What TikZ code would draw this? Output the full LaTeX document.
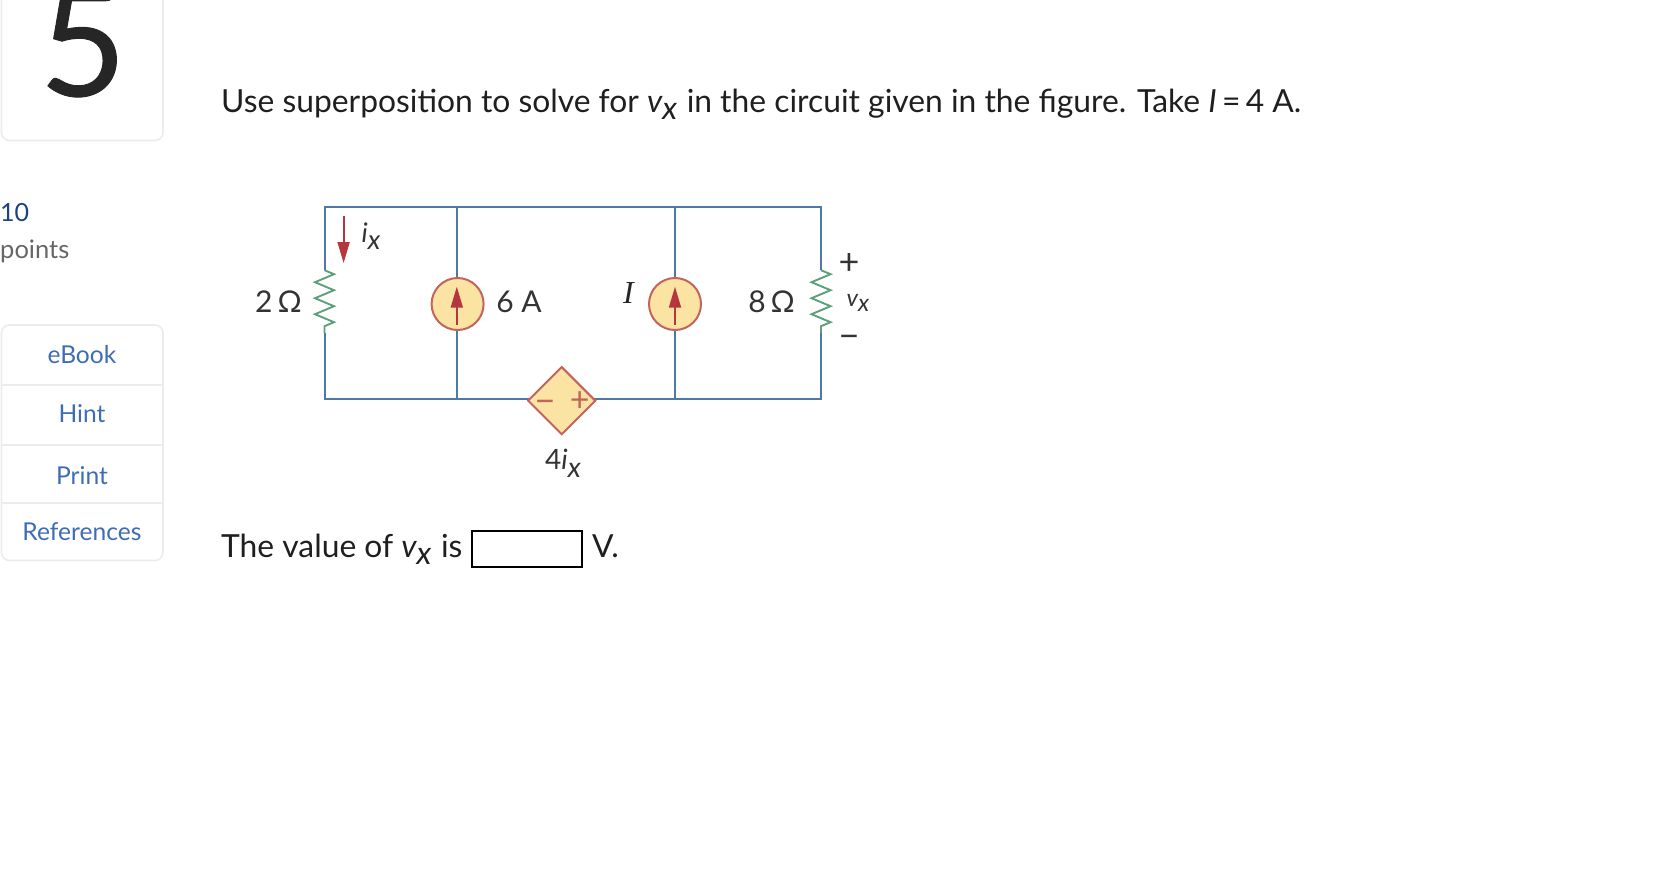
\documentclass[tikz,border=0pt]{standalone}
\usepackage{xcolor}
\usepackage{fontspec}
\setmainfont{Lato}
\newfontfamily\serifi{Liberation Serif}
\usetikzlibrary{shapes,arrows.meta,positioning,decorations.pathmorphing}

\definecolor{wirecol}{HTML}{4E79A5}
\definecolor{rescol}{HTML}{5E9F7C}
\definecolor{srcfill}{HTML}{FBE3A4}
\definecolor{srcline}{HTML}{C2645C}
\definecolor{arrcol}{HTML}{B5363C}
\definecolor{linkcol}{HTML}{3D6DB5}
\definecolor{panelcol}{HTML}{ECECEC}
\definecolor{labcol}{HTML}{333333}
\definecolor{navycol}{HTML}{1B4282}

\newcommand{\vxsym}{{\itshape v\raisebox{-.24em}{x}}}
\newcommand{\ixsym}{{\itshape i\raisebox{-.28em}{x}}}

\tikzset{
    wire/.style={draw=wirecol, line width=2pt},
    resistor/.style={draw=rescol, line width=1.9pt, decorate, decoration={zigzag, segment length=16pt, amplitude=9.5pt}},
    source/.style={circle, draw=srcline, fill=srcfill, line width=2pt, minimum size=52pt, inner sep=0pt},
    depsource/.style={diamond, draw=srcline, fill=srcfill, line width=2pt, minimum size=68pt, inner sep=0pt},
    flow/.style={draw=arrcol, line width=1.8pt, -{Triangle[length=21pt, width=12pt]}},
    panel/.style={draw=panelcol, line width=1.6pt, rounded corners=8pt},
    label/.style={text=labcol, font=\fontsize{30}{32}\selectfont, inner sep=0pt},
    prompt/.style={text=black!88, font=\fontsize{31.8}{36}\selectfont, inner sep=0pt, anchor=base west},
    sidelink/.style={text=linkcol, font=\fontsize{24.6}{28}\selectfont, inner sep=0pt}
}

\begin{document}
\begin{tikzpicture}[x=1pt, y=-1pt]
    \useasboundingbox (0,0) rectangle (1664,870);
    % question number
    \draw [panel] (1.5,-30) rectangle (163,140.5);
    \node (number) [inner sep=0pt, text=black!85, anchor=base, font=\fontsize{150}{150}\selectfont\addfontfeature{FakeBold=0.6}] at (83,96) {5};
    \node (worth) [inner sep=0pt, text=navycol, font=\fontsize{25}{32}\selectfont, anchor=west] at (0,213) {10};
    \node (points) [inner sep=0pt, text=black!60, font=\fontsize{25.5}{30}\selectfont, anchor=west] at (0,251) {points};

    % side panel
    \draw [panel] (1.5,325) rectangle (163,560.5);
    \coordinate (p1) at (1.5,385);
    \coordinate (p2) at (1.5,445);
    \coordinate (p3) at (1.5,503);
    \foreach \p in {p1,p2,p3}
        \draw [draw=panelcol, line width=1.6pt] (\p) -- ++(161.5,0);
    \node (ebook) [sidelink] at (82,355) {eBook};
    \node (hint) [sidelink] at (82,414) {Hint};
    \node (print) [sidelink] at (82,476) {Print};
    \node (refs) [sidelink] at (82,531.5) {References};

    % question text
    \node (question) [prompt] at (221,112) {Use superposition to solve for \vxsym\hspace{.05em} in the circuit given in the figure. Take \textit{I}\,=\,4 A.};
    \node (answer) [prompt] at (221,557) {The value of \vxsym\hspace{.05em} is};
    \node (blank) [rectangle, draw=black, line width=2pt, minimum width=110pt, minimum height=36pt, inner sep=0pt] at (526.5,549) {};
    \node (unit) [prompt] at (592,557) {V.};

    % circuit corners
    \coordinate (tl) at (324.5,206.7);
    \coordinate [right=132.3pt of tl] (t1);
    \coordinate [right=218.2pt of t1] (t2);
    \coordinate [right=146pt of t2] (tr);
    \coordinate [below=192pt of tl] (bl);
    \coordinate [below=192pt of t1] (b1);
    \coordinate [below=192pt of t2] (b2);
    \coordinate [below=192pt of tr] (br);

    % resistors
    \coordinate [below=63.5pt of tl] (rltop);
    \coordinate [below=63pt of rltop] (rlbot);
    \coordinate [below=63.5pt of tr] (rrtop);
    \coordinate [below=63pt of rrtop] (rrbot);
    \draw [resistor] (rltop) -- (rlbot);
    \draw [resistor] (rrtop) -- (rrbot);

    \draw [wire] (rltop) -- (tl) -- (tr) -- (rrtop);
    \draw [wire] (rlbot) -- (bl) -- (br) -- (rrbot);
    \draw [wire] (t1) -- (b1);
    \draw [wire] (t2) -- (b2);

    % sources
    \node (src6) [source, below=70.3pt of t1, xshift=.8pt] {};
    \node (srcI) [source, below=70.3pt of t2] {};
    \node (dep) [depsource] at (561.7,400.7) {};

    % arrows
    \coordinate [below=118pt of t1] (a6tail);
    \coordinate [below=80pt of t1] (a6tip);
    \coordinate [below=118pt of t2] (aItail);
    \coordinate [below=80pt of t2] (aItip);
    \draw [flow] (a6tail) -- (a6tip);
    \draw [flow] (aItail) -- (aItip);
    \coordinate (ixtail) at (343.6,216);
    \coordinate [below=47pt of ixtail] (ixtip);
    \draw [flow] (ixtail) -- (ixtip);

    % dependent source polarity
    \node (depminus) [inner sep=0pt, text=srcline, font=\fontsize{36}{36}\selectfont, left=6pt of dep.center, yshift=-6pt] {\textminus};
    \node (depplus) [inner sep=0pt, text=srcline, font=\fontsize{34}{34}\selectfont, right=8pt of dep.center, yshift=-1pt] {+};

    % labels
    \node (l2) [label] at (278.5,302) {2\,Ω};
    \node (l6) [label] at (519,302) {6 A};
    \node (lI) [label, font=\fontsize{32}{32}\selectfont\serifi\itshape, text=black!85] at (628.5,293) {I};
    \node (l8) [label] at (771.6,302) {8\,Ω};
    \node (lix) [label, font=\fontsize{27}{30}\selectfont] at (371,236) {\ixsym};
    \node (lplus) [label, font=\fontsize{36}{36}\selectfont] at (849,264) {+};
    \node (lvx) [label, font=\fontsize{24}{24}\selectfont] at (858,303) {\vxsym};
    \node (lminus) [label, font=\fontsize{36}{36}\selectfont] at (849,342) {\textminus};
    \node (l4ix) [label, font=\fontsize{28}{30}\selectfont] at (563,463) {4\ixsym};
\end{tikzpicture}
\end{document}
